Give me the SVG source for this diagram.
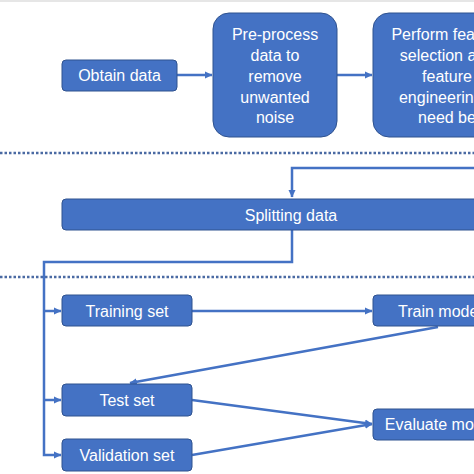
<svg xmlns="http://www.w3.org/2000/svg" width="474" height="474" viewBox="0 0 474 474">
<defs>
<style>
.box{fill:#4472C4;stroke:#2F528F;stroke-width:1}
.t{font-family:"Liberation Sans",Arial,sans-serif;font-size:16px;fill:#ffffff;text-anchor:middle}
.c{fill:none;stroke:#4472C4;stroke-width:2.5}
.dot{stroke:#4A6AA3;stroke-width:2.5;stroke-dasharray:2.5 2}
</style>
<marker id="ah" markerWidth="8" markerHeight="8" refX="7" refY="4" orient="auto" markerUnits="userSpaceOnUse">
<path d="M0,0.5 L7.5,4 L0,7.5 Z" fill="#4472C4"/>
</marker>
</defs>
<rect x="0" y="0" width="474" height="474" fill="#ffffff"/>
<rect x="0" y="0" width="474" height="2" fill="#e6e6e6"/>
<line class="dot" x1="0" y1="153" x2="474" y2="153"/>
<line class="dot" x1="0" y1="277" x2="474" y2="277"/>
<g id="connectors">
<line class="c" x1="177" y1="75" x2="212" y2="75" marker-end="url(#ah)"/>
<line class="c" x1="337" y1="75" x2="372" y2="75" marker-end="url(#ah)"/>
<path class="c" d="M474,168 L292,168 L292,197" marker-end="url(#ah)"/>
<path class="c" d="M292,230 L292,262 L44,262 L44,455 L61,455" marker-end="url(#ah)"/>
<line class="c" x1="44" y1="311" x2="61" y2="311" marker-end="url(#ah)"/>
<line class="c" x1="44" y1="400" x2="61" y2="400" marker-end="url(#ah)"/>
<line class="c" x1="192" y1="311" x2="372" y2="311" marker-end="url(#ah)"/>
<line class="c" x1="438" y1="327" x2="130" y2="383" marker-end="url(#ah)"/>
<line class="c" x1="192" y1="400" x2="372" y2="424" marker-end="url(#ah)"/>
<line class="c" x1="192" y1="455" x2="372" y2="424" marker-end="url(#ah)"/>
</g>
<g id="obtain">
<rect class="box" x="62" y="60" width="115" height="31" rx="4"/>
<text class="t" x="119.5" y="81">Obtain data</text>
</g>
<g id="preprocess">
<rect class="box" x="213" y="13" width="124" height="124" rx="16"/>
<text class="t" x="275" y="39.5">Pre-process</text>
<text class="t" x="275" y="60.5">data to</text>
<text class="t" x="275" y="81.5">remove</text>
<text class="t" x="275" y="102.5">unwanted</text>
<text class="t" x="275" y="122.5">noise</text>
</g>
<g id="feature">
<rect class="box" x="373" y="13" width="148" height="124" rx="16"/>
<text class="t" x="447" y="39.5">Perform feature</text>
<text class="t" x="447" y="60.5">selection and</text>
<text class="t" x="447" y="81.5">feature</text>
<text class="t" x="447" y="102.5">engineering if</text>
<text class="t" x="447" y="122.5">need be</text>
</g>
<g id="splitting">
<rect class="box" x="62" y="199" width="458" height="31" rx="4"/>
<text class="t" x="291" y="220.5">Splitting data</text>
</g>
<g id="training">
<rect class="box" x="62" y="295" width="130" height="31" rx="4"/>
<text class="t" x="127" y="316.5">Training set</text>
</g>
<g id="trainmodel">
<rect class="box" x="373" y="295" width="134" height="31" rx="4"/>
<text class="t" x="440" y="316.5">Train model</text>
</g>
<g id="test">
<rect class="box" x="62" y="384" width="130" height="32" rx="4"/>
<text class="t" x="127" y="405.5">Test set</text>
</g>
<g id="evaluate">
<rect class="box" x="373" y="409" width="134" height="31" rx="4"/>
<text class="t" x="440" y="430">Evaluate model</text>
</g>
<g id="validation">
<rect class="box" x="62" y="439" width="130" height="32" rx="4"/>
<text class="t" x="127" y="460.5">Validation set</text>
</g>
</svg>
